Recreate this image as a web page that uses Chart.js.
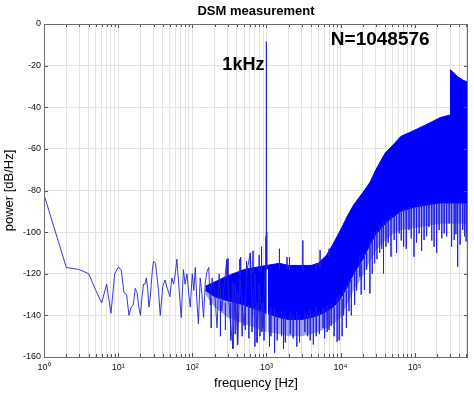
<!DOCTYPE html>
<html><head><meta charset="utf-8">
<script src="https://cdn.jsdelivr.net/npm/chart.js@4.4.1/dist/chart.umd.min.js"></script>
<style>html,body{margin:0;padding:0;background:#fff;}#wrap{width:474px;height:394px;position:relative}</style>
</head><body><div id="wrap"><canvas id="c" width="474" height="394"></canvas></div>
<script>
// ---------- data ----------
const titleText = 'DSM measurement';
const toneLabel = '1kHz';
const nLabel = 'N=1048576';
const xAxisTitle = 'frequency [Hz]';
const yAxisTitle = 'power [dB/Hz]';

const xDecades = [1, 10, 100, 1000, 10000, 100000];
const xTickLabels = ['10\u2070', '10\u00b9', '10\u00b2', '10\u00b3', '10\u2074', '10\u2075'];
const xMin = 1, xMax = 524288;
const yTicks = [0, -20, -40, -60, -80, -100, -120, -140, -160];

// low-frequency part (individual bins)
const lowFreq = [1,2,3,4,5,6,7,8,9,10,11,12,13,14,15,16,17,18,19,20,21,22,23,24,25,26,27,28,29,30,
  32,35,37,40,43,46,50,53,56,59,62,66,71,76,80,85,90,94,100,105,110,115,121,128,135,142,150,158,167,175,
  185,200,216,230,250,270,293,320,354,380,409,440,500,550,608,650,700,750,800,900,960];
const lowPower = [-82,-117,-118,-120,-128,-134,-125,-139,-120,-117,-118,-129,-130,-140,-136,-135,-127,-129,-136,-140,
  -131,-125,-125,-122,-127,-136,-132,-125,-118,-114,
  -115,-128,-140,-126,-123,-127,-131,-122,-125,-120,-113,-126,-141,-118,-125,-120,-130,-136,-120,-128,
  -117,-132,-144,-122,-130,-141,-124,-119,-117,-135,-122,-128,-146,-120,-138,-125,-113,-140,-156,-125,
  -154,-122,-145,-118,-110,-140,-120,-153,-125,-146,-118];

// dense noise band: solid core envelope and lighter lower fringe
const bandFreq = [150,200,300,500,700,1000,1500,2000,3000,4000,5000,6500,8000,10000,12500,15000,20000,25000,30000,40000,
  50000,65000,100000,150000,220000,300000,303000,305000,380000,450000,524288];
const bandHigh = [-126,-124,-121,-118,-117,-116,-115,-116,-116,-116,-115,-111,-105.5,-99,-92,-87,-81,-76,-70,-62,
  -58.5,-54,-51,-48,-45,-43.7,-43.5,-22,-25.3,-27,-28];
const bandLow = [-128,-131,-133,-135,-137,-139,-141,-142,-142,-141,-140,-138,-136,-132,-126,-120,-113,-106,-101,-96,
  -93,-90,-88,-87,-86,-86,-86,-86,-86,-86,-86];
const fringeLow = [-130,-136,-141,-144,-146,-148,-149,-150,-150,-149,-148,-146,-144,-141,-134,-128,-121,-114,-109,-104,
  -101,-99,-98,-97,-96,-96,-96,-96,-96,-96,-96];

// isolated spikes (frequency, upper end, lower end)
const spikeFreq = [1000,985,1012,1500,1900,3100,5300,293,608,450,800,304,438,540,660,860,2050,4700,7000,
  354,409,520,750,870,1150,1290,1600,1800,2100,2570,3300,3900,4700,5800,6600,7500,9000,9600,
  180,240,280,330,380,470,580,640,700,820,930,1100,1400,1700,2300,2800,3600,4300,5200,6100,7000,8200,
  10500,12000,14000,16500,19000,22500,
  11000,13000,15500,18200,21000,24900,28800,33700,38000,41000,48000,53000,62000,71000,84000,98000,
  115000,134000,156000,183000,214000,250000,292000,342000,380000,445000,495000,
  26800,31000,36000,44000,57000,66000,77000,90000,106000,124000,145000,170000,198000,232000,270000,315000,360000,410000,470000,510000];
const spikeTop = [-8.5,-102,-100,-108,-112,-104,-108.6,-113.4,-110,-112,-111,-112.6,-113,-114,-109,-107,-112,-115,-108,
  -124,-128,-132,-134,-134,-136,-136,-138,-138,-138,-138,-138,-137,-136,-136,-135,-134,-131,-130,
  -132,-133,-134,-134,-134,-135,-135,-136,-136,-137,-137,-138,-139,-140,-140,-140,-140,-139,-138,-137,-137,-136,
  -132,-128,-123,-118,-115,-110,
  -128,-123,-118,-112,-110,-104,-100,-97,-95,-94,-92,-92,-90,-89,-88,-88,
  -87,-87,-86,-86,-86,-86,-86,-86,-86,-86,-86,
  -103,-99,-97,-94,-92,-90,-89,-88,-88,-87,-87,-86,-86,-86,-86,-86,-86,-86,-86,-86];
const spikeBottom = [-120,-118,-118,-118,-118,-118,-117,-122,-120,-121,-119,-121,-121,-121,-120,-119,-118,-118,-112,
  -156,-154,-147,-153,-148,-150,-158,-150,-153,-149,-155,-148,-152,-150,-146,-148,-145,-152.7,-152,
  -146,-150,-147,-152,-149,-150,-151,-148,-155,-150,-152,-155,-152,-156,-151,-153,-150,-154,-149,-151,-147,-150,
  -150,-146,-140,-128,-130,-118,
  -140,-138,-135,-121.4,-127.8,-129.5,-115,-110,-119.8,-107,-111.8,-103.8,-100.6,-107,-99,-111.8,
  -100.6,-103.8,-97.5,-107,-99,-100.6,-95.8,-103.8,-116.6,-99,-104.5,
  -120,-113,-108,-105,-110,-104,-108,-103,-105,-109,-102,-104,-110,-103,-102,-107,-101,-106,-102,-100];

// white notch just above the tone
const notchFreq = [1030];
const notchTop = [-118];
const notchBottom = [-160];

// ---------- build chart ----------
const blue = '#0000ff';
const pts = (xs, ys) => xs.map((f, i) => ({x: f, y: ys[i]}));
const segs = (xs, a, b) => { const out = []; xs.forEach((f, i) => out.push({x: f, y: a[i]}, {x: f, y: b[i]}, {x: f, y: null})); return out; };

const xGridValues = [];
xDecades.forEach(d => { for (let m = 1; m <= 9; m++) { const v = m * d; if (v <= xMax) xGridValues.push(v); } });

const FONT = '"Liberation Sans", Arial, Helvetica, sans-serif';

const deco = {
  id: 'deco',
  afterDraw(chart) {
    const {ctx, chartArea: a, scales: {x, y}} = chart;
    ctx.save();
    ctx.strokeStyle = '#555'; ctx.lineWidth = 1;
    ctx.beginPath();
    xGridValues.forEach(v => {
      const px = Math.round(x.getPixelForValue(v)) + 0.5;
      const len = xDecades.includes(v) ? 4 : 3;
      ctx.moveTo(px, a.bottom); ctx.lineTo(px, a.bottom - len);
      ctx.moveTo(px, a.top); ctx.lineTo(px, a.top + len);
    });
    yTicks.forEach(v => {
      const py = Math.round(y.getPixelForValue(v)) + 0.5;
      ctx.moveTo(a.left, py); ctx.lineTo(a.left + 4, py);
      ctx.moveTo(a.right, py); ctx.lineTo(a.right - 4, py);
    });
    ctx.stroke();
    ctx.strokeStyle = '#6e6e6e';
    ctx.strokeRect(Math.round(a.left) + 0.5, Math.round(a.top) + 0.5, Math.round(a.right - a.left) - 1, Math.round(a.bottom - a.top));
    ctx.fillStyle = '#000';
    ctx.font = 'bold 13px ' + FONT;
    ctx.textAlign = 'center'; ctx.textBaseline = 'middle';
    ctx.fillText(titleText, (a.left + a.right) / 2, 11.5);
    ctx.font = 'bold 18px ' + FONT;
    ctx.textAlign = 'right'; ctx.textBaseline = 'alphabetic';
    ctx.fillText(toneLabel, x.getPixelForValue(1000) - 2, y.getPixelForValue(-22));
    ctx.font = 'bold 19px ' + FONT;
    ctx.textAlign = 'left';
    ctx.fillText(nLabel, x.getPixelForValue(7400), y.getPixelForValue(-10));
    ctx.restore();
  }
};

new Chart(document.getElementById('c'), {
  type: 'line',
  data: {
    datasets: [
      {data: segs(notchFreq, notchTop, notchBottom), borderColor: '#ffffff', borderWidth: 1, pointRadius: 0, fill: false, order: 0},
      {data: segs(spikeFreq, spikeTop, spikeBottom), borderColor: 'rgba(30,30,225,0.75)', borderWidth: 1, pointRadius: 0, fill: false, order: 1},
      {data: pts(lowFreq, lowPower), borderColor: 'rgba(35,35,205,0.9)', borderWidth: 1, pointRadius: 0, fill: false, order: 2},
      {data: pts(bandFreq, bandHigh), borderColor: blue, backgroundColor: blue, borderWidth: 1, pointRadius: 0, fill: '+1', order: 3},
      {data: pts(bandFreq, bandLow), borderColor: blue, borderWidth: 1, pointRadius: 0, fill: false, order: 4},
      {data: pts(bandFreq, fringeLow), borderColor: 'rgba(0,0,255,0)', backgroundColor: 'rgba(20,20,235,0.4)', borderWidth: 0, pointRadius: 0, fill: 4, order: 5}
    ]
  },
  options: {
    responsive: false, animation: false, devicePixelRatio: 1,
    layout: {padding: {top: 24, right: 6, left: 0, bottom: 0}},
    plugins: {legend: {display: false}, tooltip: {enabled: false}, title: {display: false}},
    elements: {line: {tension: 0}},
    scales: {
      x: {
        type: 'logarithmic', min: xMin, max: xMax,
        afterBuildTicks: s => { s.ticks = xGridValues.map(v => ({value: v})); },
        afterFit: s => { s.height = 37; },
        ticks: {
          autoSkip: false, maxRotation: 0, padding: 5, color: '#111',
          font: {family: FONT, size: 9},
          callback: v => { const i = xDecades.indexOf(v); return i >= 0 ? xTickLabels[i] : ''; }
        },
        grid: {color: '#e3e3e3', drawTicks: false},
        border: {display: false},
        title: {display: true, text: xAxisTitle, color: '#000', font: {family: FONT, size: 13}, padding: {top: 0, bottom: 3}}
      },
      y: {
        min: -160, max: 0,
        afterBuildTicks: s => { s.ticks = yTicks.map(v => ({value: v})); },
        afterFit: s => { s.width = 44; },
        ticks: {padding: 3, color: '#111', font: {family: FONT, size: 9}},
        grid: {color: '#e3e3e3', drawTicks: false},
        border: {display: false},
        title: {display: true, text: yAxisTitle, color: '#000', font: {family: FONT, size: 13}, padding: {top: 2, bottom: 0}}
      }
    }
  },
  plugins: [deco]
});
</script></body></html>
